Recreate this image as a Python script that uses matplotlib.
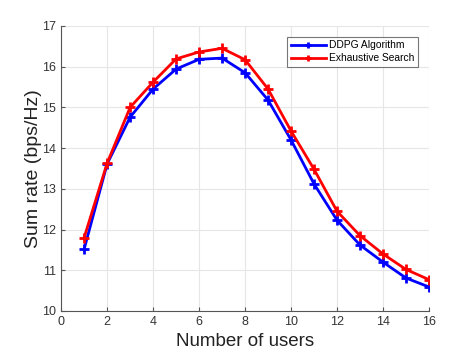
import matplotlib
matplotlib.use("Agg")
import matplotlib.pyplot as plt

users = list(range(1, 17))
ddpg = [11.52, 13.61, 14.76, 15.45, 15.94, 16.18, 16.21, 15.85, 15.18, 14.20, 13.12, 12.23, 11.62, 11.20, 10.81, 10.59]
exhaustive = [11.80, 13.63, 15.00, 15.62, 16.19, 16.36, 16.45, 16.17, 15.45, 14.42, 13.48, 12.45, 11.85, 11.40, 11.02, 10.77]
xticks = [0, 2, 4, 6, 8, 10, 12, 14, 16]
yticks = [10, 11, 12, 13, 14, 15, 16, 17]

plt.rcParams['font.family'] = ['Liberation Sans', 'DejaVu Sans']
fig = plt.figure(figsize=(4.74, 3.55), dpi=100)
ax = fig.add_axes([0.129, 0.124, 0.776, 0.803])

ax.plot(users, ddpg, color=(0, 0, 1), lw=2, marker='+', ms=7, mew=2, label='DDPG Algorithm')
ax.plot(users, exhaustive, color=(1, 0, 0), lw=2, marker='+', ms=7, mew=2, label='Exhaustive Search')

ax.set_xlim(0, 16)
ax.set_ylim(10, 17)
ax.set_xticks(xticks)
ax.set_yticks(yticks)
ax.grid(True, color='#e6e6e6', lw=0.8)
ax.set_axisbelow(True)
for s in ['top', 'right']:
    ax.spines[s].set_visible(False)
for s in ['left', 'bottom']:
    ax.spines[s].set_color('#555555')
    ax.spines[s].set_linewidth(0.8)
ax.tick_params(direction='in', length=3, colors='#555555', labelsize=9, labelcolor='#333333')
ax.set_xlabel('Number of users', fontsize=13.5, color='#222222', labelpad=4)
ax.set_ylabel('Sum rate (bps/Hz)', fontsize=14, color='#222222', labelpad=0)

leg = ax.legend(loc='upper right', bbox_to_anchor=(0.975, 0.97), fontsize=7.4, frameon=True, fancybox=False,
                edgecolor='#555555', handlelength=3.4, borderpad=0.35, labelspacing=0.3, handletextpad=0.3,
                borderaxespad=0.2, markerscale=0.7)
leg.get_frame().set_linewidth(0.8)

fig.savefig('out.png', dpi=100)
